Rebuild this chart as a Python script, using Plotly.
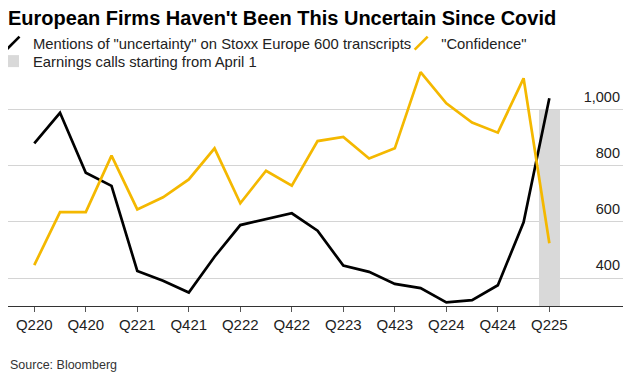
import plotly.graph_objects as go

quarters = ["Q220", "Q320", "Q420", "Q121", "Q221", "Q321", "Q421", "Q122", "Q222", "Q322",
            "Q422", "Q123", "Q223", "Q323", "Q423", "Q124", "Q224", "Q324", "Q424", "Q125", "Q225"]
uncertainty = [881, 990, 776, 729, 425, 390, 348, 476, 589, 610, 631, 569, 444, 422, 379,
               364, 313, 321, 374, 599, 1042]
confidence = [446, 635, 635, 837, 645, 688, 752, 863, 667, 783, 730, 889, 904, 827, 863,
              1135, 1024, 955, 919, 1113, 524]
shade_quarter = ["Q225"]
shade_value = [1000]
tick_quarters = quarters[::2]
y_ticks = [400, 600, 800, 1000]

BLACK = "#000000"
YELLOW = "#f4b800"
GRAY = "#d9d9d9"
FONT = "Liberation Sans, Arial, sans-serif"

# the page body adds 8px around the figure, so the figure is 8px smaller each way
W, H = 625, 371

fig = go.Figure()
fig.add_trace(go.Bar(x=shade_quarter, y=shade_value, width=0.8, marker_color=GRAY,
                     marker_line_width=0, name="Earnings calls starting from April 1",
                     legend="legend2", hoverinfo="skip"))
fig.add_trace(go.Scatter(x=quarters, y=uncertainty, mode="lines",
                         line=dict(color=BLACK, width=2.7), showlegend=False))
fig.add_trace(go.Scatter(x=quarters, y=confidence, mode="lines",
                         line=dict(color=YELLOW, width=2.7), showlegend=False))
# legend entries drawn as slashes
fig.add_trace(go.Scatter(x=[None], y=[None], mode="markers", legend="legend",
                         name='Mentions of "uncertainty" on Stoxx Europe 600 transcripts',
                         marker=dict(symbol="line-ne-open", size=13, color=BLACK,
                                     line=dict(color=BLACK, width=2.6))))
fig.add_trace(go.Scatter(x=[None], y=[None], mode="markers", legend="legend",
                         name='"Confidence"',
                         marker=dict(symbol="line-ne-open", size=13, color=YELLOW,
                                     line=dict(color=YELLOW, width=2.6))))

legend_common = dict(orientation="h", xref="container", xanchor="left",
                     yref="container", yanchor="top", indentation=-15,
                     font=dict(size=14.8, color="#222"), itemwidth=30,
                     bgcolor="rgba(0,0,0,0)", traceorder="normal")

fig.update_layout(
    width=W, height=H,
    margin=dict(l=0, r=10, t=58, b=73, autoexpand=False),
    paper_bgcolor="white", plot_bgcolor="white",
    font=dict(family=FONT, size=14, color="#222"),
    title=dict(text="<b>European Firms Haven't Been This Uncertain Since Covid</b>",
               x=0, xanchor="left", xref="container",
               y=1 - 10 / H, yanchor="middle", yref="container",
               font=dict(family=FONT, size=20, color="#000")),
    showlegend=True,
    legend=dict(x=0, y=1 - 19 / H, **legend_common),
    legend2=dict(x=0, y=1 - 37 / H, **legend_common),
    bargap=0,
)
fig.update_xaxes(
    type="category", categoryorder="array", categoryarray=quarters,
    range=[-1.02, 22.86],
    tickmode="array", tickvals=tick_quarters, ticktext=tick_quarters,
    ticks="outside", ticklen=5, tickcolor="#555", tickwidth=1,
    showline=True, linecolor="#333", linewidth=1,
    showgrid=False, tickfont=dict(size=15, color="#222"),
)
fig.update_yaxes(
    range=[300, 1157], side="right",
    tickmode="array", tickvals=y_ticks, tickformat=",d",
    ticklabelposition="inside", ticklabelshift=-13,
    showgrid=True, gridcolor="#d4d4d4", gridwidth=1,
    zeroline=False, showline=False, ticks="",
    tickfont=dict(size=14.5, color="#222"),
)
fig.add_annotation(text="Source: Bloomberg", xref="paper", yref="paper",
                   x=0, xanchor="left", y=(298 - 357) / 240, yanchor="middle",
                   showarrow=False, font=dict(size=12.5, color="#333"))

fig.write_html("out.html")
